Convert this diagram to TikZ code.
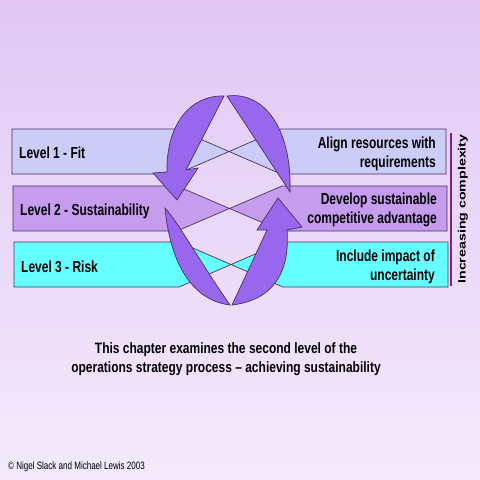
\documentclass[tikz,border=0pt]{standalone}
\usepackage{fontspec}
\setmainfont{Liberation Sans}
\definecolor{bgtop}{HTML}{E1C8F5}
\definecolor{bgbot}{HTML}{F3EAFB}
\definecolor{fitcol}{HTML}{CCCCF8}
\definecolor{suscol}{HTML}{C69CEE}
\definecolor{riskcol}{HTML}{66FFFF}
\definecolor{arrcol}{HTML}{9966EE}
\definecolor{edgecol}{HTML}{45335F}
\definecolor{axcol}{HTML}{86207A}
\newcommand{\narrow}[1]{\scalebox{0.75}[1]{#1}}
\tikzstyle{levelbar}=[draw=edgecol, line width=0.7pt, line join=miter]
\tikzstyle{cycarrow}=[draw=edgecol, fill=arrcol, line width=0.7pt]
\tikzstyle{lvltxt}=[inner sep=0pt, anchor=west, font=\fontsize{16}{19}\selectfont\bfseries]
\tikzstyle{aimtxt}=[inner sep=0pt, anchor=east, align=right, font=\fontsize{16}{19}\selectfont\bfseries]

\begin{document}
\begin{tikzpicture}[x=1pt, y=-1pt]
      \useasboundingbox (0,0) rectangle (480,480);
      \shade[top color=bgtop, bottom color=bgbot] (0,0) rectangle (480,480);

      % the three levels, each crossing over in the middle
      \draw[levelbar, fill=fitcol] (12,129) -- (177,129) -- (229,151.5) -- (281,129) -- (446,129)
            -- (446,174) -- (281,174) -- (229,151.5) -- (177,174) -- (12,174) -- cycle;
      \draw[levelbar, fill=suscol] (13,186) -- (177,186) -- (229.5,208.5) -- (282,186) -- (447,186)
            -- (447,231) -- (282,231) -- (229.5,208.5) -- (177,231) -- (13,231) -- cycle;
      \draw[levelbar, fill=riskcol] (14,242) -- (179,242) -- (231,264.5) -- (283,242) -- (448,242)
            -- (448,287) -- (283,287) -- (231,264.5) -- (179,287) -- (14,287) -- cycle;

      % cycle of arrows
      \draw[cycarrow] (224,96) .. controls (190,95) and (166,125) .. (167,172)
            -- (153,173) -- (177,200) -- (198,168) -- (186,170) -- cycle;
      \draw[cycarrow] (227,96) .. controls (265,91) and (292,130) .. (290,192) -- cycle;
      \draw[cycarrow] (165,208) .. controls (170,260) and (190,300) .. (230,305)
            .. controls (200,262) and (178,222) .. (165,208) -- cycle;
      \draw[cycarrow] (232,305) .. controls (275,300) and (290,270) .. (287,230)
            -- (302,227) -- (278,198) -- (257,230) -- (267,230) -- cycle;

      \node[lvltxt] (fit) at (19,153) {\narrow{Level 1 - Fit}};
      \node[lvltxt] (sus) at (20,211) {\narrow{Level 2 - Sustainability}};
      \node[lvltxt] (risk) at (21,267) {\narrow{Level 3 - Risk}};

      \node[aimtxt] (align) at (436,154) {\narrow{\begin{tabular}{@{}r@{}}Align resources with\\requirements\end{tabular}}};
      \node[aimtxt] (develop) at (437,210) {\narrow{\begin{tabular}{@{}r@{}}Develop sustainable\\competitive advantage\end{tabular}}};
      \node[aimtxt] (include) at (435,267) {\narrow{\begin{tabular}{@{}r@{}}Include impact of\\uncertainty\end{tabular}}};

      \coordinate (cxtop) at (451,133);
      \coordinate (cxbot) at (451,286);
      \draw[axcol, line width=1.6pt] (cxtop) -- (cxbot);
      \node[rotate=90, inner sep=0pt, font=\fontsize{14.2}{16}\selectfont\bfseries] (cx) at (463,209)
            {\scalebox{1}[0.75]{Increasing complexity}};

      \node[inner sep=0pt, align=center, font=\fontsize{15}{19}\selectfont\bfseries] (chap) at (226,359)
            {\scalebox{0.8}[1]{\begin{tabular}{@{}c@{}}This chapter examines the second level of the\\operations strategy process -- achieving sustainability\end{tabular}}};

      \node[inner sep=0pt, anchor=west, font=\fontsize{10.7}{12}\selectfont] (copy) at (8,467)
            {\narrow{\textcopyright{} Nigel Slack and Michael Lewis 2003}};
    \end{tikzpicture}
\end{document}
